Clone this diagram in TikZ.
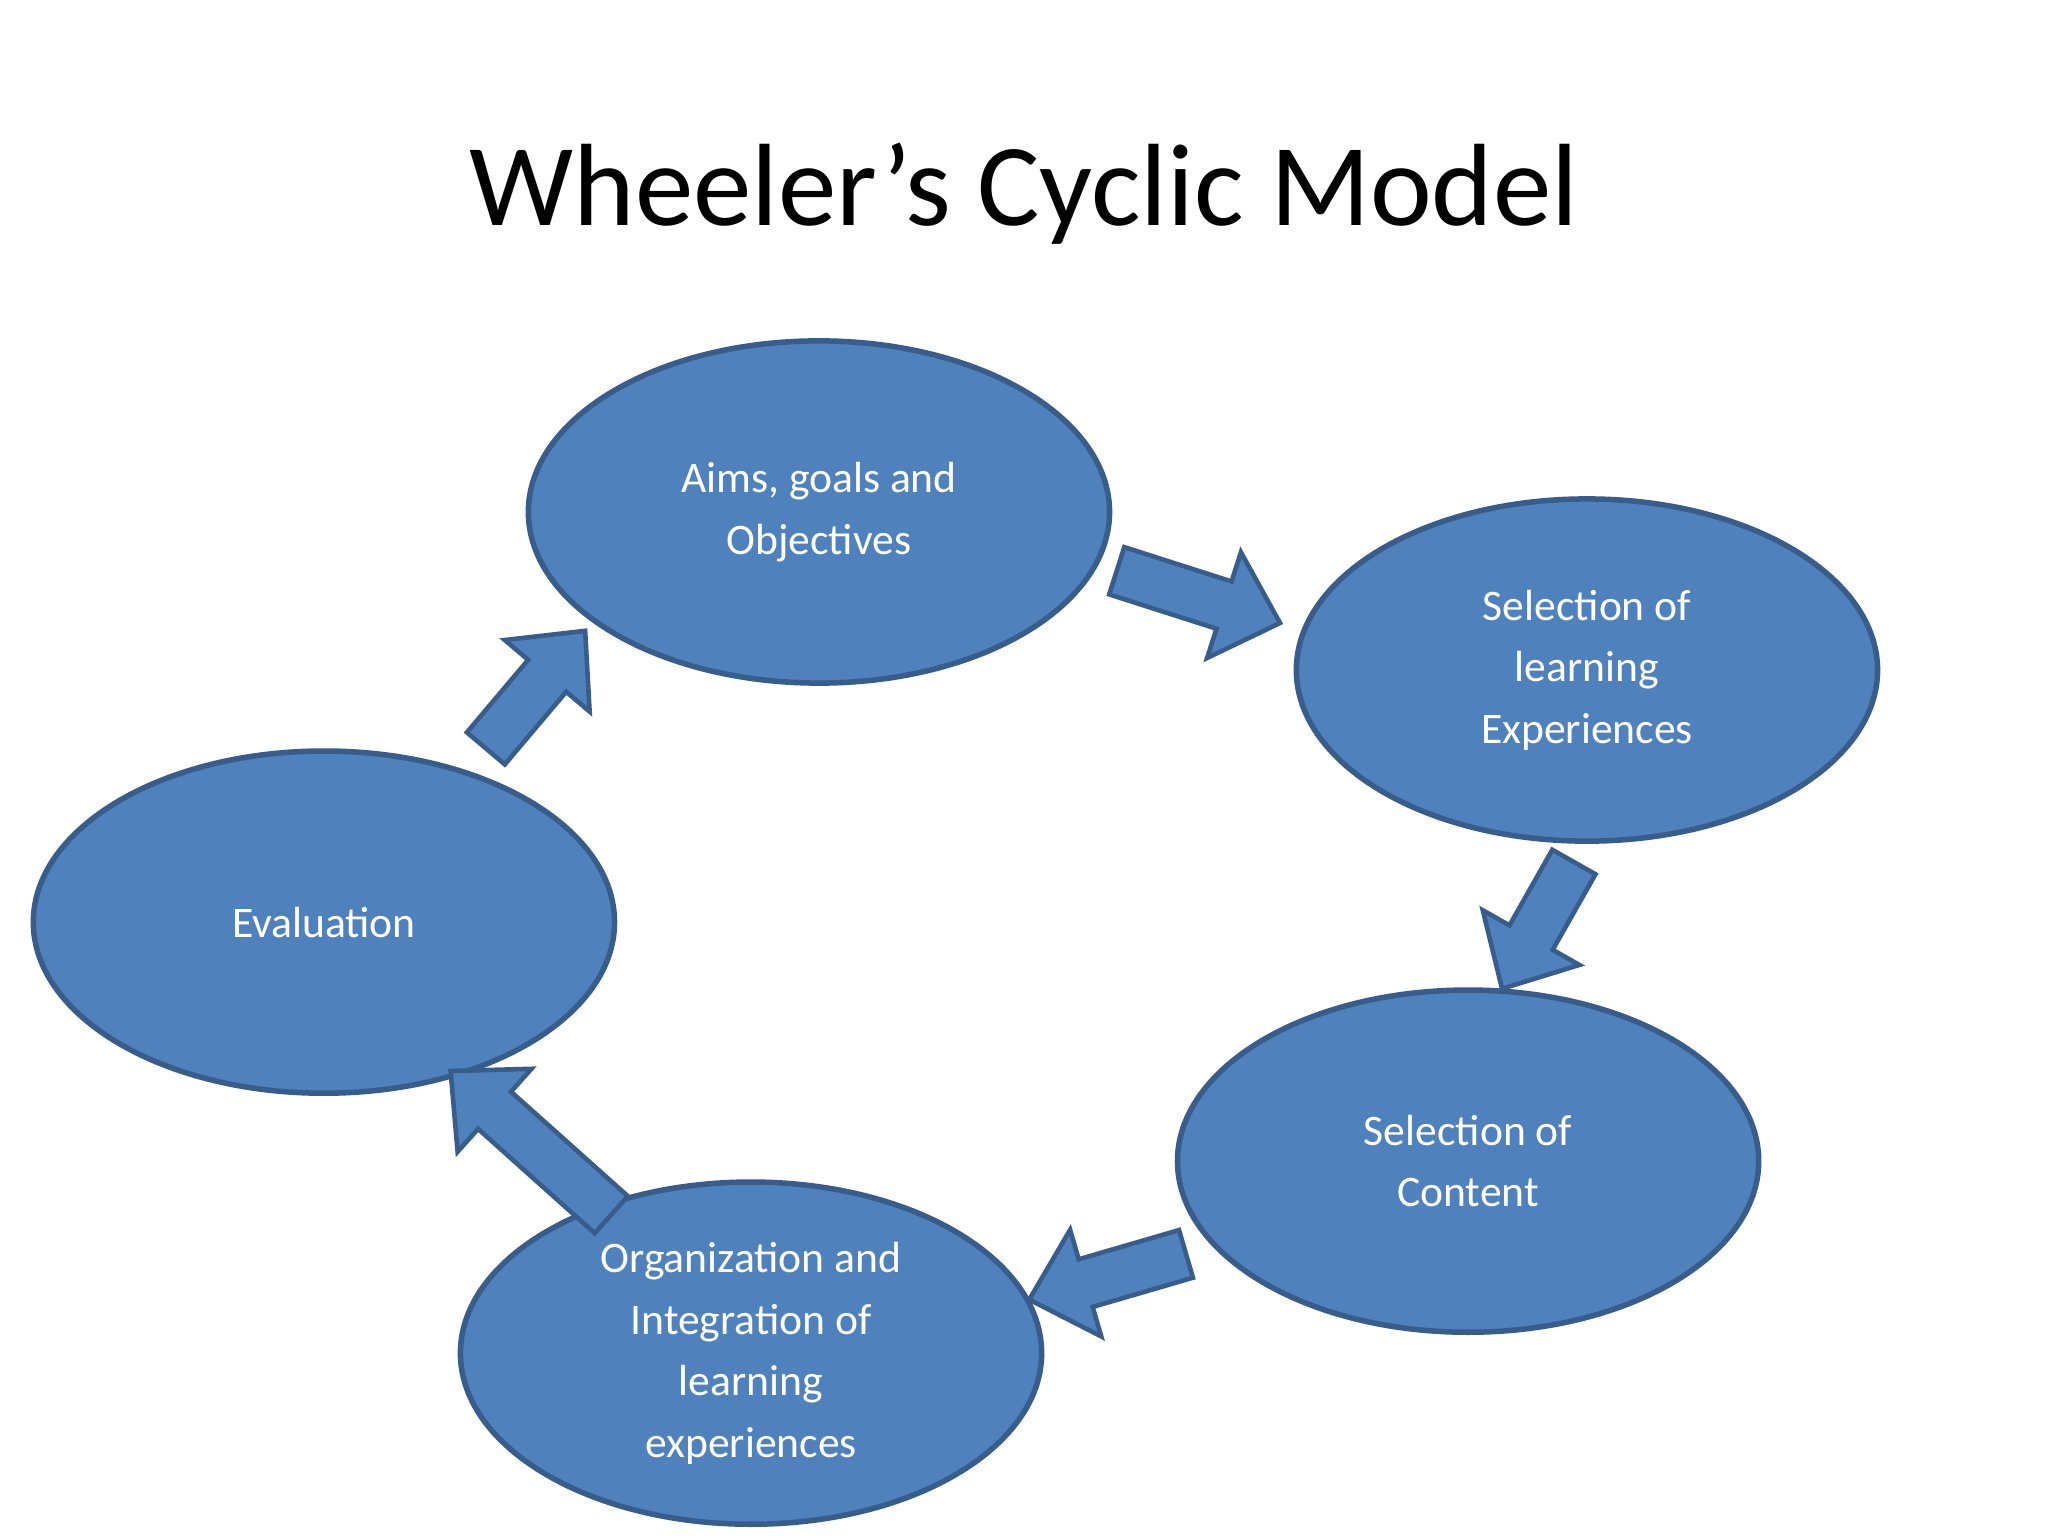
\documentclass[tikz,border=0pt]{standalone}
\usepackage{fontspec}
\setmainfont{Carlito}
\usetikzlibrary{shapes.geometric,calc}
\begin{document}
\begin{tikzpicture}[
  blob/.style={ellipse, fill=blobfill, draw=blobedge, line width=1.2pt, minimum width=4.45cm, minimum height=2.62cm, inner sep=0pt, text=white, align=center, font=\fontsize{9.5pt}{13.4pt}\selectfont},
  barrow/.style={fill=blobfill, draw=blobedge, line width=1pt, line join=miter}
]
\definecolor{blobfill}{HTML}{4F81BD}
\definecolor{blobedge}{HTML}{385D8A}
\useasboundingbox (0,0) rectangle (15.68,-11.76);
\fill[white] (0,0) rectangle (15.68,-11.76);
\newcommand\blockarrow[2]{%
\draw[barrow] let \p1=($(#2)-(#1)$), \n1={atan2(\y1,\x1)}, \n2={veclen(\x1,\y1)} in
 ($(#1)+(\n1+90:0.19)$) -- ++(\n1:{\n2-0.45cm}) -- ++(\n1+90:0.235) -- (#2)
 -- ($(#2)+(\n1+180:0.45)+(\n1-90:0.425)$) -- ++(\n1+90:0.235)
 -- ($(#1)+(\n1-90:0.19)$) -- cycle;}
\node (title) at (7.84,-1.48) {\fontsize{25.5pt}{30pt}\selectfont Wheeler’s Cyclic Model};
\node[blob] (aims) at (6.27,-3.92) {Aims, goals and\\Objectives};
\node[blob] (exp) at (12.15,-5.13) {Selection of\\learning\\Experiences};
\node[blob] (cont) at (11.24,-8.89) {Selection of\\Content};
\node[blob] (org) at (5.75,-10.36) {Organization and\\Integration of\\learning\\experiences};
\node[blob] (eval) at (2.48,-7.06) {Evaluation};
\coordinate (a1s) at (8.55,-4.37); \coordinate (a1e) at (9.80,-4.77);
\coordinate (a2s) at (12.05,-6.60); \coordinate (a2e) at (11.50,-7.57);
\coordinate (a3s) at (9.08,-9.60); \coordinate (a3e) at (7.88,-9.95);
\coordinate (a4s) at (4.68,-9.30); \coordinate (a4e) at (3.45,-8.20);
\coordinate (a5s) at (3.72,-5.73); \coordinate (a5e) at (4.48,-4.83);
\blockarrow{a1s}{a1e}
\blockarrow{a2s}{a2e}
\blockarrow{a3s}{a3e}
\blockarrow{a4s}{a4e}
\blockarrow{a5s}{a5e}
\end{tikzpicture}
\end{document}
